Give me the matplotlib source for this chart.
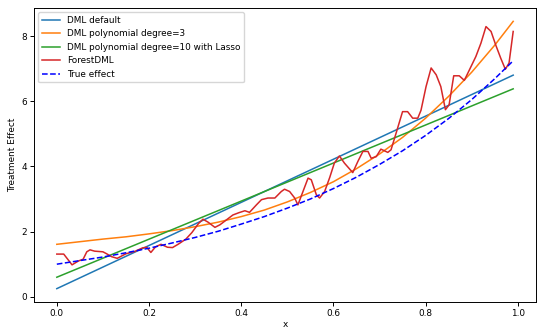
import matplotlib
matplotlib.use("Agg")
import matplotlib.pyplot as plt
import numpy as np

# estimated treatment effects over x in [0, 1)
x_lin = [0.0, 0.99]
dml_default = [0.25, 6.80]
dml_lasso = [0.60, 6.38]

x_grid = [0.0, 0.05, 0.10, 0.15, 0.20, 0.25, 0.30, 0.35, 0.40, 0.45, 0.50,
          0.55, 0.60, 0.65, 0.70, 0.75, 0.80, 0.85, 0.90, 0.95, 0.99]
dml_poly3 = [1.61, 1.69, 1.77, 1.84, 1.93, 2.03, 2.15, 2.29, 2.46, 2.66, 2.91,
             3.20, 3.53, 3.93, 4.38, 4.89, 5.48, 6.15, 6.89, 7.72, 8.45]
true_effect = [1.00, 1.11, 1.22, 1.35, 1.49, 1.65, 1.82, 2.01, 2.23, 2.46, 2.72,
               3.00, 3.32, 3.67, 4.06, 4.48, 4.95, 5.47, 6.05, 6.69, 7.24]

x_forest = [0.000, 0.015, 0.033, 0.047, 0.057, 0.065, 0.072, 0.082, 0.100, 0.108,
            0.119, 0.131, 0.150, 0.169, 0.186, 0.195, 0.204, 0.214, 0.226, 0.240,
            0.251, 0.263, 0.280, 0.293, 0.307, 0.317, 0.328, 0.343, 0.354, 0.368,
            0.382, 0.395, 0.408, 0.418, 0.433, 0.444, 0.458, 0.473, 0.487, 0.494,
            0.505, 0.516, 0.523, 0.534, 0.545, 0.552, 0.563, 0.570, 0.581, 0.592,
            0.602, 0.613, 0.624, 0.642, 0.653, 0.664, 0.675, 0.682, 0.693, 0.703,
            0.718, 0.725, 0.736, 0.750, 0.761, 0.772, 0.783, 0.790, 0.801, 0.812,
            0.823, 0.833, 0.843, 0.851, 0.861, 0.873, 0.884, 0.895, 0.909, 0.920,
            0.931, 0.942, 0.952, 0.963, 0.973, 0.981, 0.990]
forest_dml = [1.31, 1.31, 0.98, 1.10, 1.15, 1.38, 1.44, 1.40, 1.38, 1.32,
              1.23, 1.18, 1.32, 1.39, 1.50, 1.52, 1.36, 1.53, 1.61, 1.52,
              1.51, 1.61, 1.77, 1.97, 2.24, 2.38, 2.29, 2.13, 2.21, 2.36,
              2.51, 2.58, 2.64, 2.59, 2.82, 2.98, 3.03, 3.03, 3.23, 3.30,
              3.23, 3.03, 2.82, 3.23, 3.64, 3.59, 3.13, 3.03, 3.23, 3.66,
              4.10, 4.32, 4.10, 3.81, 4.15, 4.46, 4.46, 4.25, 4.30, 4.53,
              4.43, 4.51, 5.02, 5.68, 5.68, 5.48, 5.48, 5.72, 6.45, 7.02,
              6.81, 6.45, 5.74, 5.89, 6.78, 6.78, 6.64, 6.96, 7.37, 7.78,
              8.29, 8.14, 7.73, 7.32, 6.98, 7.17, 8.14]

plt.rcParams['font.size'] = 6.4

fig = plt.figure(figsize=(5.51, 3.32), dpi=100)
ax = fig.add_axes([34 / 551, 1 - 302 / 332, 502 / 551, 294 / 332])

lw = 1.1
ax.plot(x_lin, dml_default, lw=lw, label='DML default')
ax.plot(x_grid, dml_poly3, lw=lw, label='DML polynomial degree=3')
ax.plot(x_lin, dml_lasso, lw=lw, label='DML polynomial degree=10 with Lasso')
ax.plot(x_forest, forest_dml, lw=lw, label='ForestDML')
ax.plot(x_grid, true_effect, 'b--', lw=lw, label='True effect')

ax.set_xlabel('x', labelpad=2)
ax.set_ylabel('Treatment Effect', labelpad=3)
ax.set_yticks([0, 2, 4, 6, 8])
ax.tick_params(length=2.8, width=0.7, pad=2)
for s in ax.spines.values():
    s.set_linewidth(0.7)
ax.legend(loc='upper left', fontsize=6.4)

fig.savefig('out.png', dpi=100)
